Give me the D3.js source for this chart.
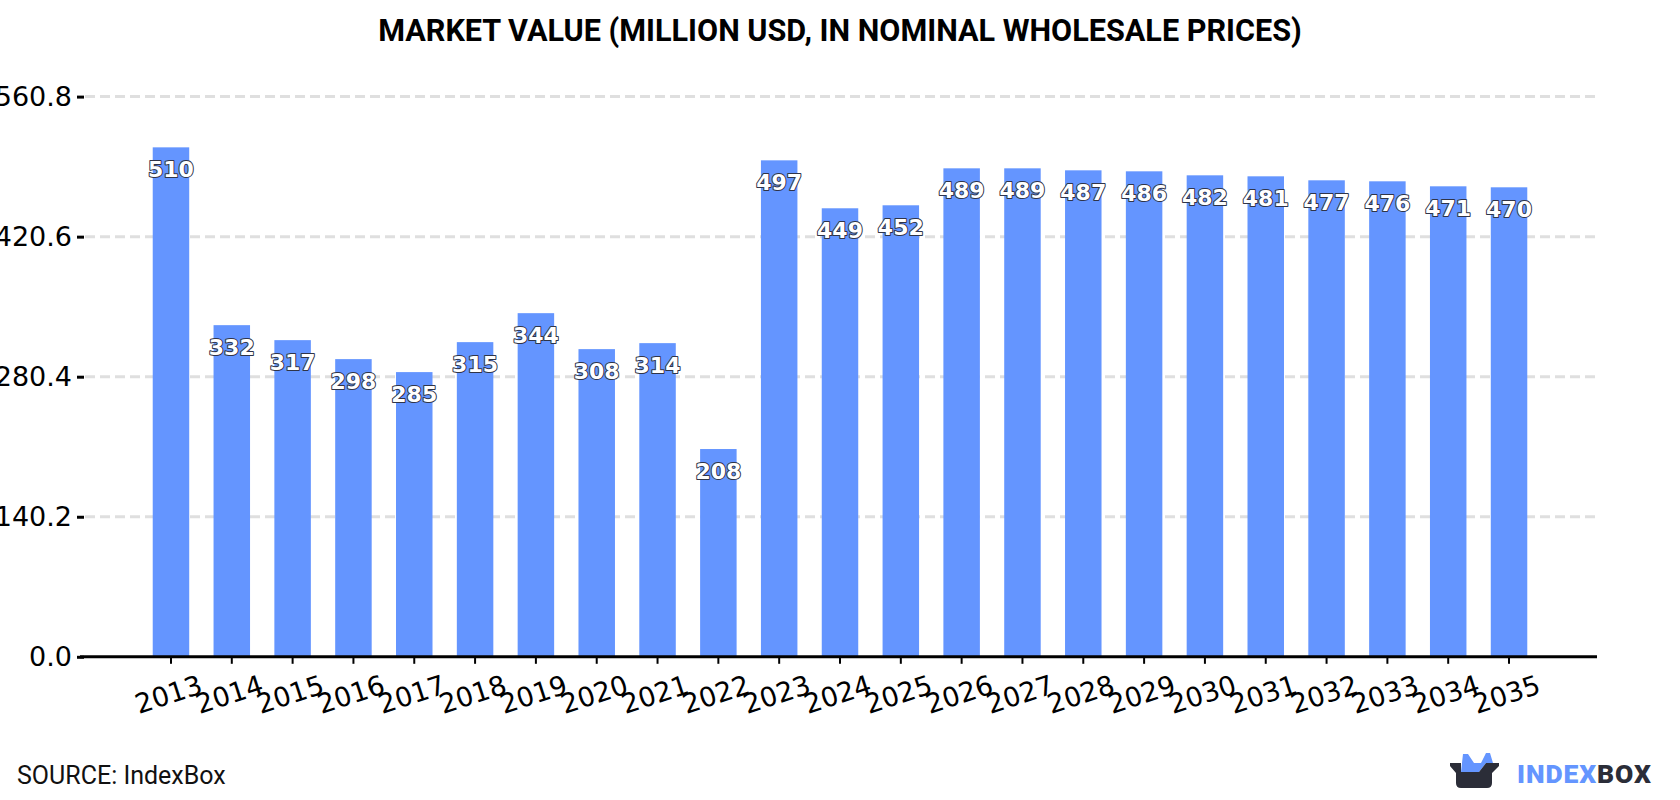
<!DOCTYPE html>
<html>
<head>
<meta charset="utf-8">
<script src="https://cdn.jsdelivr.net/npm/d3@7"></script>
<style>
html,body{margin:0;padding:0;background:#fff;overflow:hidden}
svg{display:block}
.tick-y text,.tick-x text{font-family:"DejaVu Sans",sans-serif;fill:#000}
</style>
</head>
<body>
<svg id="chart" width="1680" height="800"></svg>
<script>
const years = [2013,2014,2015,2016,2017,2018,2019,2020,2021,2022,2023,2024,2025,2026,2027,2028,2029,2030,2031,2032,2033,2034,2035];
const marketValue = [510,332,317,298,285,315,344,308,314,208,497,449,452,489,489,487,486,482,481,477,476,471,470];
const yTicks = [0,140.2,280.4,420.6,560.8];
const chartTitle = "MARKET VALUE (MILLION USD, IN NOMINAL WHOLESALE PRICES)";
const sourceText = "SOURCE: IndexBox";

const frame = {left:84, right:1596, top:96.6, bottom:656.8};
const svg = d3.select("#chart");

const x = d3.scaleBand().domain(years).range([frame.left, frame.right]).paddingInner(0.4).paddingOuter(1.13);
const y = d3.scaleLinear().domain([0,560.8]).range([frame.bottom, frame.top]);

svg.append("text").attr("x",840).attr("y",41).attr("text-anchor","middle")
  .attr("font-family","Roboto, sans-serif").attr("font-weight",700).attr("font-size",30.6).attr("fill","#000")
  .text(chartTitle);

// horizontal grid, skipping the baseline
svg.append("g").selectAll("line").data(yTicks.filter(d=>d>0)).join("line")
  .attr("x1",frame.left+1).attr("x2",frame.right+1)
  .attr("y1",d=>y(d)).attr("y2",d=>y(d))
  .attr("stroke","#dfdfdf").attr("stroke-width",3).attr("stroke-dasharray","10 5");

// bars
svg.append("g").selectAll("rect").data(marketValue).join("rect")
  .attr("x",(d,i)=>x(years[i])).attr("width",x.bandwidth())
  .attr("y",d=>y(d)).attr("height",d=>y(0)-y(d))
  .attr("fill","#6495ff");

// y axis
const yAxis = d3.axisLeft(y).tickValues(yTicks).tickFormat(d3.format(".1f")).tickSize(7).tickPadding(5);
const gy = svg.append("g").attr("class","tick-y").attr("transform",`translate(${frame.left},0)`).call(yAxis);
gy.select(".domain").remove();
gy.selectAll("line").attr("stroke","#000").attr("stroke-width",3);
gy.selectAll("text").attr("font-size",27);

// x axis
const xAxis = d3.axisBottom(x).tickSize(7).tickPadding(8);
const gx = svg.append("g").attr("class","tick-x").attr("transform",`translate(0,${frame.bottom})`).call(xAxis);
gx.select(".domain").attr("stroke","#000").attr("stroke-width",3).attr("d",`M${frame.left-4},0H${frame.right+1}`);
gx.selectAll("line").attr("stroke","#000").attr("stroke-width",2);
gx.selectAll("text").attr("font-size",27).attr("text-anchor","middle").attr("dy",0)
  .attr("transform","translate(0.5,46.5) rotate(-18)").attr("y",0);

// value labels inside the bars
svg.append("g").selectAll("text").data(marketValue).join("text")
  .attr("x",(d,i)=>x(years[i])+x.bandwidth()/2)
  .attr("y",d=>y(d)+30)
  .attr("text-anchor","middle")
  .attr("font-family","'DejaVu Sans',sans-serif").attr("font-weight",700).attr("font-size",22)
  .attr("fill","#fff").attr("stroke","#2f3448").attr("stroke-width",2).attr("paint-order","stroke")
  .attr("stroke-linejoin","round")
  .text(d=>d);

svg.append("text").attr("x",17).attr("y",784)
  .attr("font-family","Roboto, sans-serif").attr("font-size",25).attr("fill","#111").text(sourceText);

// brand mark
const logo = svg.append("g");
logo.append("path").attr("fill","#6495ff")
  .attr("d","M1461,772 L1463,754 L1468,754 L1474,763 L1481,763 L1486,753 L1490,753 L1493,763 H1486 L1479,772 Z");
logo.append("path").attr("fill","#2b2d38")
  .attr("d","M1450,763 H1461 V772 H1479 L1486,763 H1499 V766 L1492,773 V783 Q1492,788 1487,788 H1461 Q1456,788 1456,783 V773 L1450,766 Z");
const brand = svg.append("text").attr("x",1517).attr("y",783)
  .attr("font-family","Roboto, sans-serif").attr("font-weight",900).attr("font-size",26.5).attr("letter-spacing",0.9);
brand.append("tspan").attr("fill","#6495ff").text("INDEX");
brand.append("tspan").attr("fill","#2b2d38").text("BOX");
</script>
</body>
</html>
